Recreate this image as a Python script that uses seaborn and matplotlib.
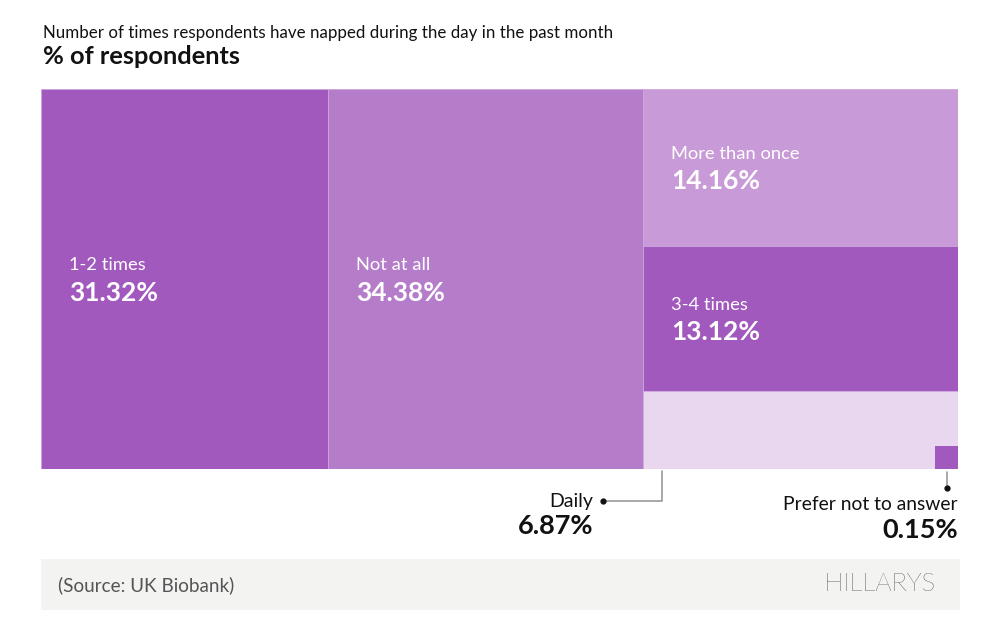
import numpy as np
import matplotlib.pyplot as plt
import seaborn as sns
from matplotlib.lines import Line2D
from matplotlib.patches import Rectangle

# datos del treemap (% de encuestados)
categories = ['1-2 times', 'Not at all', 'More than once', '3-4 times', 'Daily', 'Prefer not to answer']
shares = [31.32, 34.38, 14.16, 13.12, 6.87, 0.15]
box_colors = ['#A259BE', '#B57CCA', '#C89AD8', '#A259BE', '#E9D6EF', '#A259BE']

# columnas -> filas -> categorias (indices)
layout = [[[0]], [[1]], [[2], [3], [4, 5]]]

sns.set_theme(style='white')
plt.rcParams['font.family'] = ['Lato', 'DejaVu Sans']

W, H = 1000, 642
fig = plt.figure(figsize=(10, 6.42), dpi=100)
ax_l, ax_t, ax_w, ax_h = 41, 89, 917, 380
ax = fig.add_axes([ax_l / W, 1 - (ax_t + ax_h) / H, ax_w / W, ax_h / H])
ax.set_xlim(0, 100)
ax.set_ylim(100, 0)
ax.axis('off')

px_x = ax_w / 100  # pixeles por unidad x
px_y = ax_h / 100

rects = {}
left = 0
for col in layout:
    col_total = sum(shares[i] for row in col for i in row)
    top = 0
    for row in col:
        row_total = sum(shares[i] for i in row)
        h = row_total / col_total * 100
        main = row[0]
        ax.bar(left, h, width=col_total, bottom=top, align='edge',
               color=box_colors[main], edgecolor='#CDA6DC', linewidth=0.6)
        rects[main] = (left, top, col_total, h)
        # categorias pequenas: cuadrado en la esquina con area proporcional
        for i in row[1:]:
            side = np.sqrt(shares[i] / 100 * ax_w * ax_h)
            sw, sh = side / px_x, side / px_y
            ax.bar(left + col_total - sw, sh, width=sw, bottom=top + h - sh, align='edge',
                   color=box_colors[i], linewidth=0)
            rects[i] = (left + col_total - sw, top + h - sh, sw, sh)
        top += h
    left += col_total

# etiquetas dentro de las cajas
for i in range(4):
    x0, y0, w, h = rects[i]
    ax.annotate(categories[i], (x0, y0 + h / 2), xytext=(20, 10), textcoords='offset points',
                ha='left', va='center', fontsize=13.2, color='white')
    ax.annotate(f'{shares[i]:.2f}%', (x0, y0 + h / 2), xytext=(20, -10), textcoords='offset points',
                ha='left', va='center', fontsize=19, fontweight='bold', color='white')


def fx(px):
    return px / W


def fy(py):
    return 1 - py / H


line_c = '#9a9a9a'

# Daily: linea guia
x0, y0, w, h = rects[4]
lx = ax_l + x0 * px_x + 19
fig.add_artist(Line2D([fx(lx), fx(lx), fx(603)], [fy(471), fy(501), fy(501)], color=line_c, lw=1.2))
fig.add_artist(Line2D([fx(603)], [fy(501)], marker='o', ms=3.5, color='#111111', lw=0))
fig.text(fx(593), fy(501), categories[4], ha='right', va='center', fontsize=14, color='#111111')
fig.text(fx(593), fy(526), f'{shares[4]:.2f}%', ha='right', va='center', fontsize=19.5,
         fontweight='bold', color='#111111')

# Prefer not to answer: linea guia
x0, y0, w, h = rects[5]
lx = ax_l + (x0 + w / 2) * px_x
fig.add_artist(Line2D([fx(lx), fx(lx)], [fy(472), fy(487)], color=line_c, lw=1.2))
fig.add_artist(Line2D([fx(lx)], [fy(488)], marker='o', ms=3.5, color='#111111', lw=0))
fig.text(fx(958), fy(505), categories[5], ha='right', va='center', fontsize=13.9, color='#111111')
fig.text(fx(958), fy(530), f'{shares[5]:.2f}%', ha='right', va='center', fontsize=19.5,
         fontweight='bold', color='#111111')

# titulos
fig.text(fx(43), fy(33), 'Number of times respondents have napped during the day in the past month',
         ha='left', va='center', fontsize=12.2, color='#111111')
fig.text(fx(43), fy(57), '% of respondents', ha='left', va='center', fontsize=18.3,
         fontweight='bold', color='#111111')

# pie de pagina
fig.add_artist(Rectangle((fx(41), fy(610)), fx(919), 51 / H, transform=fig.transFigure,
                         color='#F3F3F2', lw=0))
fig.text(fx(58), fy(585), '(Source: UK Biobank)', ha='left', va='center', fontsize=13.6,
         color='#555555')
fig.text(fx(935), fy(584), 'HILLARYS', ha='right', va='center', fontsize=18.5,
         fontweight='light', color='#000000')

plt.savefig('out.png', dpi=100)
